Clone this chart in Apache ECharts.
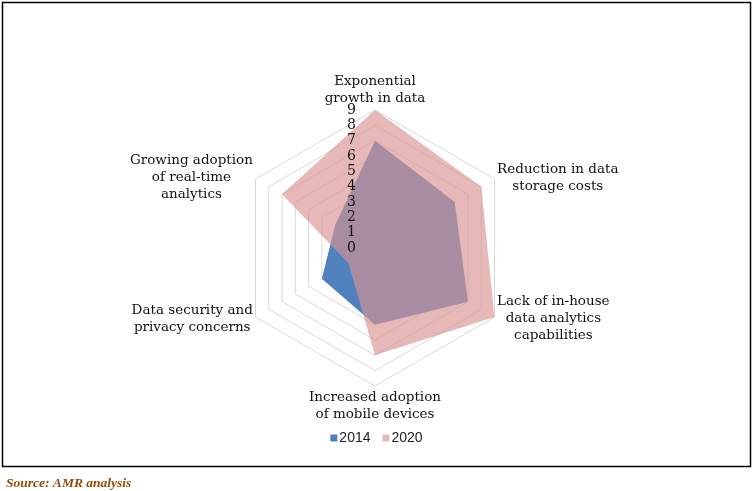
<!DOCTYPE html>
<html>
<head>
<meta charset="utf-8">
<script src="https://cdn.jsdelivr.net/npm/echarts@6/dist/echarts.min.js"></script>
<style>
html,body{margin:0;padding:0;background:#fff;}
#chart{width:753px;height:491px;}
</style>
</head>
<body>
<div id="chart"></div>
<script>
// Indicators listed in the order ECharts draws them (counter-clockwise from top)
var categories = [
  'Exponential\ngrowth in data',
  'Growing adoption\nof real-time\nanalytics',
  'Data security and\nprivacy concerns',
  'Increased adoption\nof mobile devices',
  'Lack of in-house\ndata analytics\ncapabilities',
  'Reduction in data\nstorage costs'
];
var seriesNames = ['2014', '2020'];
var values2014 = [7, 3, 4, 5, 7, 6];
var values2020 = [9, 7, 2, 7, 9, 8];
var axisMax = 9;
var tickLabels = ['0','1','2','3','4','5','6','7','8','9'];

var serif = '"DejaVu Serif", "Liberation Serif", serif';

var chart = echarts.init(document.getElementById('chart'), null, {renderer: 'canvas'});
var option = {
  animation: false,
  backgroundColor: '#fff',
  title: {
    text: 'Source: AMR analysis',
    left: 1, top: 472,
    textStyle: {fontFamily: '"Liberation Serif", serif', fontStyle: 'italic', fontWeight: 'bold', fontSize: 13.5, color: '#984807'}
  },
  graphic: [{
    type: 'rect', shape: {x: 2.5, y: 2.5, width: 748, height: 464},
    style: {fill: 'none', stroke: '#000', lineWidth: 1.5}, silent: true
  }],
  legend: {
    data: seriesNames,
    bottom: 41, left: 'center',
    icon: 'rect', itemWidth: 7, itemHeight: 7, itemGap: 12,
    textStyle: {fontFamily: '"Liberation Sans", Arial, sans-serif', fontSize: 14, color: '#222', padding: [0,0,0,-3]}
  },
  radar: {
    center: [375, 248],
    radius: 138,
    startAngle: 90,
    shape: 'polygon',
    splitNumber: 9,
    indicator: categories.map(function (c) { return {name: c, min: 0, max: axisMax}; }),
    axisName: {
      formatter: function (name) {
        return name.split('\n').map(function (l) { return '{a|' + l + '}'; }).join('\n');
      },
      rich: {a: {color: '#111', fontFamily: serif, fontSize: 13.5, lineHeight: 17, align: 'center'}}
    },
    nameGap: 3,
    axisLine: {show: false},
    splitLine: {lineStyle: {color: '#d9d9d9', width: 1}},
    splitArea: {show: false}
  },
  polar: {center: [375, 248], radius: 138},
  angleAxis: {type: 'value', startAngle: 90, min: 0, max: 360, show: false},
  radiusAxis: {
    type: 'value', min: 0, max: axisMax, interval: 1, z: 10,
    axisLine: {show: false}, axisTick: {show: false}, splitLine: {show: false},
    axisLabel: {
      show: true, margin: 19, color: '#111', fontFamily: serif, fontSize: 14,
      formatter: function (v) { return tickLabels[v]; }
    }
  },
  series: [{
    type: 'radar',
    symbol: 'none',
    data: [
      {name: seriesNames[0], value: values2014,
       lineStyle: {width: 0}, itemStyle: {color: '#4F81BD'},
       areaStyle: {color: '#4F81BD', opacity: 1}},
      {name: seriesNames[1], value: values2020,
       lineStyle: {width: 0}, itemStyle: {color: '#E6B9B8'},
       areaStyle: {color: 'rgb(216,146,146)', opacity: 0.65}}
    ]
  }, {
    type: 'scatter', coordinateSystem: 'polar', data: [], silent: true
  }]
};
chart.setOption(option);
</script>
</body>
</html>
